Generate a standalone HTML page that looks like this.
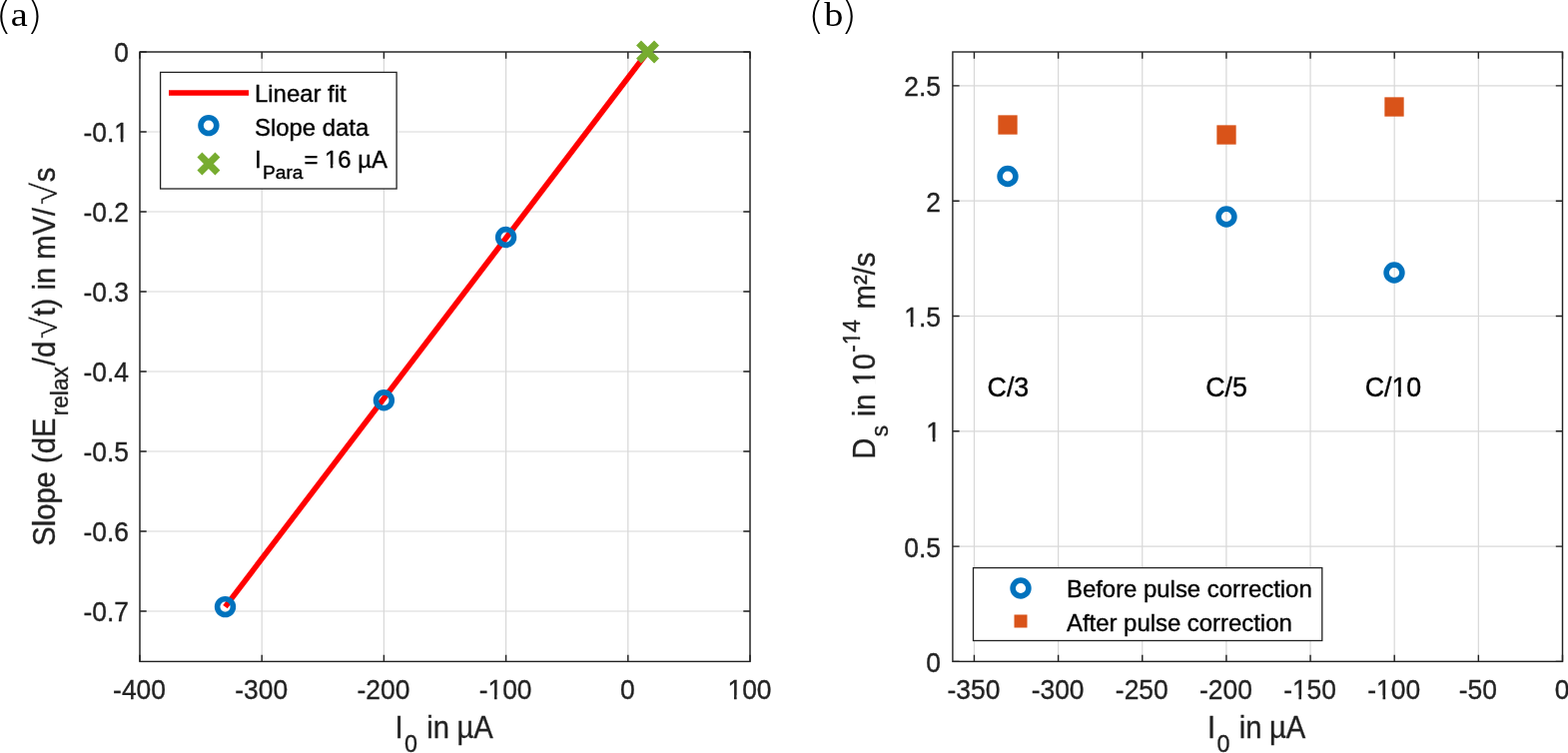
<!DOCTYPE html>
<html lang="en">
<head>
<meta charset="utf-8">
<title>Slope and diffusion coefficient plots</title>
<style>
html,body{margin:0;padding:0;background:#fff;}
body{width:1570px;height:754px;overflow:hidden;}
svg{display:block;}
text{font-family:"Liberation Sans","DejaVu Sans",sans-serif;}
.tk text{font-size:26.4px;fill:#222222;stroke:#222222;stroke-width:0.32px;}
.lab{font-size:29.2px;fill:#222222;stroke:#222222;stroke-width:0.32px;}
.leg{font-size:23.9px;fill:#000;stroke:#000;stroke-width:0.38px;}
.ann{font-size:26.75px;fill:#000;stroke:#000;stroke-width:0.38px;}
.cap{font-family:"Liberation Serif","DejaVu Serif",serif;font-size:34.7px;fill:#000;}
.rad{fill:#222222;stroke:#fff;stroke-width:0.4px;}
.par{font-family:"DejaVu Sans Light","DejaVu Sans",sans-serif;font-weight:200;font-size:38.9px;}
</style>
</head>
<body>
<svg width="1570" height="754" viewBox="0 0 1570 754">
<defs>
<clipPath id="k1" clipPathUnits="userSpaceOnUse"><path clip-rule="evenodd" d="M-3000 -3000H3000V3000H-3000ZM-16.81 -3.57H-11.12V1.20H-16.81ZM-8.51 -3.57H-3.02V1.20H-8.51Z"/></clipPath>
<clipPath id="k2" clipPathUnits="userSpaceOnUse"><path clip-rule="evenodd" d="M-3000 -3000H3000V3000H-3000ZM-21.20 -3.57H-15.52V1.20H-21.20ZM-12.91 -3.57H-7.43V1.20H-12.91Z"/></clipPath>
<clipPath id="k3" clipPathUnits="userSpaceOnUse"><path clip-rule="evenodd" d="M-3000 -3000H3000V3000H-3000ZM-13.87 -3.57H-8.18V1.20H-13.87ZM-5.57 -3.57H-0.09V1.20H-5.57Z"/></clipPath>
<clipPath id="k4" clipPathUnits="userSpaceOnUse"><path clip-rule="evenodd" d="M-3000 -3000H3000V3000H-3000ZM325.62 164.71H330.87V169.30H325.62ZM333.27 164.71H338.34V169.30H333.27Z"/></clipPath>
<clipPath id="k5" clipPathUnits="userSpaceOnUse"><path clip-rule="evenodd" d="M-3000 -3000H3000V3000H-3000ZM-16.81 -3.57H-11.12V1.20H-16.81ZM-8.51 -3.57H-3.02V1.20H-8.51Z"/></clipPath>
<clipPath id="k6" clipPathUnits="userSpaceOnUse"><path clip-rule="evenodd" d="M-3000 -3000H3000V3000H-3000ZM-16.81 -3.57H-11.12V1.20H-16.81ZM-8.51 -3.57H-3.02V1.20H-8.51Z"/></clipPath>
<clipPath id="k7" clipPathUnits="userSpaceOnUse"><path clip-rule="evenodd" d="M-3000 -3000H3000V3000H-3000ZM-13.87 -3.57H-8.18V1.20H-13.87ZM-5.57 -3.57H-0.09V1.20H-5.57Z"/></clipPath>
<clipPath id="k8" clipPathUnits="userSpaceOnUse"><path clip-rule="evenodd" d="M-3000 -3000H3000V3000H-3000ZM-35.87 -3.57H-30.19V1.20H-35.87ZM-27.57 -3.57H-22.09V1.20H-27.57Z"/></clipPath>
<clipPath id="k9" clipPathUnits="userSpaceOnUse"><path clip-rule="evenodd" d="M-3000 -3000H3000V3000H-3000ZM27.57 -3.60H33.31V1.20H27.57ZM35.96 -3.60H41.50V1.20H35.96Z"/></clipPath>
<clipPath id="k10" clipPathUnits="userSpaceOnUse"><path clip-rule="evenodd" d="M-3000 -3000H3000V3000H-3000ZM74.45 -3.78H80.63V1.20H74.45ZM83.49 -3.78H89.44V1.20H83.49ZM115.09 -16.85H120.13V-12.35H115.09ZM122.41 -16.85H127.28V-12.35H122.41Z"/></clipPath>
</defs>
<rect x="0" y="0" width="1570" height="754" fill="#fff"/>
<text class="cap" transform="translate(0 26) scale(1.1 1)"><tspan class="par" x="-4.06" dy="2.6">(</tspan><tspan x="9.88" dy="-2.6">a</tspan><tspan class="par" x="23.9" dy="2.6">)</tspan></text>
<text class="cap" transform="translate(811 26) scale(1.1 1)"><tspan class="par" x="-1.79" dy="2.6">(</tspan><tspan x="12.98" dy="-2.6">b</tspan><tspan class="par" x="27.85" dy="2.6">)</tspan></text>
<g id="plot-a">
<line x1="140" y1="52" x2="140" y2="662.4" stroke="#d8d8d8" stroke-width="1.2"/>
<line x1="262.2" y1="52" x2="262.2" y2="662.4" stroke="#d8d8d8" stroke-width="1.2"/>
<line x1="384.4" y1="52" x2="384.4" y2="662.4" stroke="#d8d8d8" stroke-width="1.2"/>
<line x1="506.6" y1="52" x2="506.6" y2="662.4" stroke="#d8d8d8" stroke-width="1.2"/>
<line x1="628.8" y1="52" x2="628.8" y2="662.4" stroke="#d8d8d8" stroke-width="1.2"/>
<line x1="751" y1="52" x2="751" y2="662.4" stroke="#d8d8d8" stroke-width="1.2"/>
<line x1="140" y1="52" x2="751" y2="52" stroke="#d8d8d8" stroke-width="1.2"/>
<line x1="140" y1="132" x2="751" y2="132" stroke="#d8d8d8" stroke-width="1.2"/>
<line x1="140" y1="212" x2="751" y2="212" stroke="#d8d8d8" stroke-width="1.2"/>
<line x1="140" y1="292" x2="751" y2="292" stroke="#d8d8d8" stroke-width="1.2"/>
<line x1="140" y1="372" x2="751" y2="372" stroke="#d8d8d8" stroke-width="1.2"/>
<line x1="140" y1="452" x2="751" y2="452" stroke="#d8d8d8" stroke-width="1.2"/>
<line x1="140" y1="532" x2="751" y2="532" stroke="#d8d8d8" stroke-width="1.2"/>
<line x1="140" y1="612" x2="751" y2="612" stroke="#d8d8d8" stroke-width="1.2"/>
<rect x="140" y="52" width="611" height="610.4" fill="none" stroke="#222222" stroke-width="1.4"/>
<path d="M140 662.4v-6.7M140 52v6.7M262.2 662.4v-6.7M262.2 52v6.7M384.4 662.4v-6.7M384.4 52v6.7M506.6 662.4v-6.7M506.6 52v6.7M628.8 662.4v-6.7M628.8 52v6.7M751 662.4v-6.7M751 52v6.7M140 52h6.7M751 52h-6.7M140 132h6.7M751 132h-6.7M140 212h6.7M751 212h-6.7M140 292h6.7M751 292h-6.7M140 372h6.7M751 372h-6.7M140 452h6.7M751 452h-6.7M140 532h6.7M751 532h-6.7M140 612h6.7M751 612h-6.7" stroke="#222222" stroke-width="1.4" fill="none"/>
<g class="tk" text-anchor="middle">
<text transform="translate(139.5 700.1) scale(1 1.05)">-400</text>
<text transform="translate(261.7 700.1) scale(1 1.05)">-300</text>
<text transform="translate(383.9 700.1) scale(1 1.05)">-200</text>
<text clip-path="url(#k1)" transform="translate(506.1 700.1) scale(1 1.05)">-100</text>
<text transform="translate(628.3 700.1) scale(1 1.05)">0</text>
<text clip-path="url(#k2)" transform="translate(750.5 700.1) scale(1 1.05)">100</text>
</g>
<g class="tk" text-anchor="end">
<text transform="translate(129 62.4) scale(1 1.05)">0</text>
<text clip-path="url(#k3)" transform="translate(129 142.4) scale(1 1.05)">-0.1</text>
<text transform="translate(129 222.4) scale(1 1.05)">-0.2</text>
<text transform="translate(129 302.4) scale(1 1.05)">-0.3</text>
<text transform="translate(129 382.4) scale(1 1.05)">-0.4</text>
<text transform="translate(129 462.4) scale(1 1.05)">-0.5</text>
<text transform="translate(129 542.4) scale(1 1.05)">-0.6</text>
<text transform="translate(129 622.4) scale(1 1.05)">-0.7</text>
</g>
<line x1="225.5" y1="607.6" x2="648.5" y2="52" stroke="#ff0000" stroke-width="5.6"/>
<circle cx="225.5" cy="607.6" r="7.9" fill="none" stroke="#0072bd" stroke-width="5.6"/>
<circle cx="384.4" cy="400.8" r="7.9" fill="none" stroke="#0072bd" stroke-width="5.6"/>
<circle cx="506.6" cy="237.5" r="7.9" fill="none" stroke="#0072bd" stroke-width="5.6"/>
<path d="M639.5 43L657.5 61M639.5 61L657.5 43" stroke="#77ac30" stroke-width="7" fill="none"/>
<rect x="160.6" y="72.4" width="236.5" height="116.6" fill="#fff" stroke="#222222" stroke-width="1.3"/>
<line x1="169" y1="93" x2="249" y2="93" stroke="#ff0000" stroke-width="5.6"/>
<circle cx="208.9" cy="125.6" r="7.9" fill="none" stroke="#0072bd" stroke-width="5.6"/>
<path d="M199.9 155.05L217.9 173.05M199.9 173.05L217.9 155.05" stroke="#77ac30" stroke-width="7" fill="none"/>
<text class="leg" x="255" y="101.8">Linear fit</text>
<text class="leg" x="255" y="135.8">Slope data</text>
<text clip-path="url(#k4)" class="leg" x="255" y="168.1">I<tspan font-size="19.12" dx="1.4" dy="11.2">Para</tspan><tspan dx="1" dy="-11.2">= 16 µA</tspan></text>
<text class="lab" transform="translate(395.6 739.1) scale(1 1.055)">I<tspan font-size="23.36" dx="1.2" dy="13.6">0</tspan><tspan dx="1.2" dy="-13.6"> in</tspan><tspan dx="-0.6"> µA</tspan></text>
<text class="lab" transform="translate(54.5 546.8) rotate(-90) scale(1 1.055)"><tspan x="0" y="0">Slope (dE</tspan><tspan x="130.5" dy="13.08" font-size="22.7">relax</tspan><tspan x="180.8" dy="-13.08">/d</tspan><tspan x="207.3" dy="2.61" class="rad" font-size="34.31" textLength="22.81" lengthAdjust="spacingAndGlyphs">√</tspan><tspan x="230.3" dy="-2.61">t) in mV/</tspan><tspan x="341.6" dy="2.61" class="rad" font-size="34.31" textLength="22.81" lengthAdjust="spacingAndGlyphs">√</tspan><tspan x="364.5" dy="-2.61">s</tspan></text>
</g>
<g id="plot-b">
<line x1="975.45" y1="52" x2="975.45" y2="662.4" stroke="#d8d8d8" stroke-width="1.2"/>
<line x1="1059.6" y1="52" x2="1059.6" y2="662.4" stroke="#d8d8d8" stroke-width="1.2"/>
<line x1="1143.75" y1="52" x2="1143.75" y2="662.4" stroke="#d8d8d8" stroke-width="1.2"/>
<line x1="1227.9" y1="52" x2="1227.9" y2="662.4" stroke="#d8d8d8" stroke-width="1.2"/>
<line x1="1312.05" y1="52" x2="1312.05" y2="662.4" stroke="#d8d8d8" stroke-width="1.2"/>
<line x1="1396.2" y1="52" x2="1396.2" y2="662.4" stroke="#d8d8d8" stroke-width="1.2"/>
<line x1="1480.35" y1="52" x2="1480.35" y2="662.4" stroke="#d8d8d8" stroke-width="1.2"/>
<line x1="1564.5" y1="52" x2="1564.5" y2="662.4" stroke="#d8d8d8" stroke-width="1.2"/>
<line x1="953.9" y1="662.4" x2="1564.5" y2="662.4" stroke="#d8d8d8" stroke-width="1.2"/>
<line x1="953.9" y1="547.1" x2="1564.5" y2="547.1" stroke="#d8d8d8" stroke-width="1.2"/>
<line x1="953.9" y1="431.8" x2="1564.5" y2="431.8" stroke="#d8d8d8" stroke-width="1.2"/>
<line x1="953.9" y1="316.5" x2="1564.5" y2="316.5" stroke="#d8d8d8" stroke-width="1.2"/>
<line x1="953.9" y1="201.2" x2="1564.5" y2="201.2" stroke="#d8d8d8" stroke-width="1.2"/>
<line x1="953.9" y1="85.9" x2="1564.5" y2="85.9" stroke="#d8d8d8" stroke-width="1.2"/>
<rect x="953.9" y="52" width="610.6" height="610.4" fill="none" stroke="#222222" stroke-width="1.4"/>
<path d="M975.45 662.4v-6.7M975.45 52v6.7M1059.6 662.4v-6.7M1059.6 52v6.7M1143.75 662.4v-6.7M1143.75 52v6.7M1227.9 662.4v-6.7M1227.9 52v6.7M1312.05 662.4v-6.7M1312.05 52v6.7M1396.2 662.4v-6.7M1396.2 52v6.7M1480.35 662.4v-6.7M1480.35 52v6.7M1564.5 662.4v-6.7M1564.5 52v6.7M953.9 662.4h6.7M1564.5 662.4h-6.7M953.9 547.1h6.7M1564.5 547.1h-6.7M953.9 431.8h6.7M1564.5 431.8h-6.7M953.9 316.5h6.7M1564.5 316.5h-6.7M953.9 201.2h6.7M1564.5 201.2h-6.7M953.9 85.9h6.7M1564.5 85.9h-6.7" stroke="#222222" stroke-width="1.4" fill="none"/>
<g class="tk" text-anchor="middle">
<text transform="translate(974.95 700.1) scale(1 1.05)">-350</text>
<text transform="translate(1059.1 700.1) scale(1 1.05)">-300</text>
<text transform="translate(1143.25 700.1) scale(1 1.05)">-250</text>
<text transform="translate(1227.4 700.1) scale(1 1.05)">-200</text>
<text clip-path="url(#k5)" transform="translate(1311.55 700.1) scale(1 1.05)">-150</text>
<text clip-path="url(#k6)" transform="translate(1395.7 700.1) scale(1 1.05)">-100</text>
<text transform="translate(1479.85 700.1) scale(1 1.05)">-50</text>
<text transform="translate(1564 700.1) scale(1 1.05)">0</text>
</g>
<g class="tk" text-anchor="end">
<text transform="translate(942 672.8) scale(1 1.05)">0</text>
<text transform="translate(942 557.5) scale(1 1.05)">0.5</text>
<text clip-path="url(#k7)" transform="translate(942 442.2) scale(1 1.05)">1</text>
<text clip-path="url(#k8)" transform="translate(942 326.9) scale(1 1.05)">1.5</text>
<text transform="translate(942 211.6) scale(1 1.05)">2</text>
<text transform="translate(942 96.3) scale(1 1.05)">2.5</text>
</g>
<rect x="999.35" y="115.35" width="19.3" height="19.3" fill="#d95319"/>
<rect x="1218.35" y="125.35" width="19.3" height="19.3" fill="#d95319"/>
<rect x="1386.35" y="97.35" width="19.3" height="19.3" fill="#d95319"/>
<circle cx="1009" cy="176.5" r="7.9" fill="none" stroke="#0072bd" stroke-width="5.6"/>
<circle cx="1228" cy="217" r="7.9" fill="none" stroke="#0072bd" stroke-width="5.6"/>
<circle cx="1396" cy="273" r="7.9" fill="none" stroke="#0072bd" stroke-width="5.6"/>
<text class="ann" transform="translate(988.6 396.8) scale(1 1.05)">C/3</text>
<text class="ann" transform="translate(1207.3 396.8) scale(1 1.05)">C/5</text>
<text clip-path="url(#k9)" class="ann" transform="translate(1366.7 396.8) scale(1 1.05)">C/10</text>
<rect x="974.5" y="568.6" width="349.3" height="72.9" fill="#fff" stroke="#222222" stroke-width="1.3"/>
<circle cx="1022" cy="589" r="7.9" fill="none" stroke="#0072bd" stroke-width="5.6"/>
<rect x="1015.5" y="615.5" width="13" height="13" fill="#d95319"/>
<text class="leg" x="1068" y="598.1">Before pulse correction</text>
<text class="leg" x="1068" y="631.6">After pulse correction</text>
<text class="lab" transform="translate(1209.1 739.1) scale(1 1.055)">I<tspan font-size="23.36" dx="1.2" dy="13.6">0</tspan><tspan dx="1.2" dy="-13.6"> in</tspan><tspan dx="-0.6"> µA</tspan></text>
<text clip-path="url(#k10)" class="lab" transform="translate(875.6 459.8) rotate(-90) scale(1 1.055)"><tspan x="0" y="0">D</tspan><tspan x="22.5" dy="13.08" font-size="22.7">s</tspan><tspan x="34.49" dy="-13.08"> in 10</tspan><tspan x="107.0" dy="-13.55" font-size="22.7">-14</tspan><tspan x="142.29" dy="13.55"> m²/s</tspan></text>
</g>
</svg>
</body>
</html>
